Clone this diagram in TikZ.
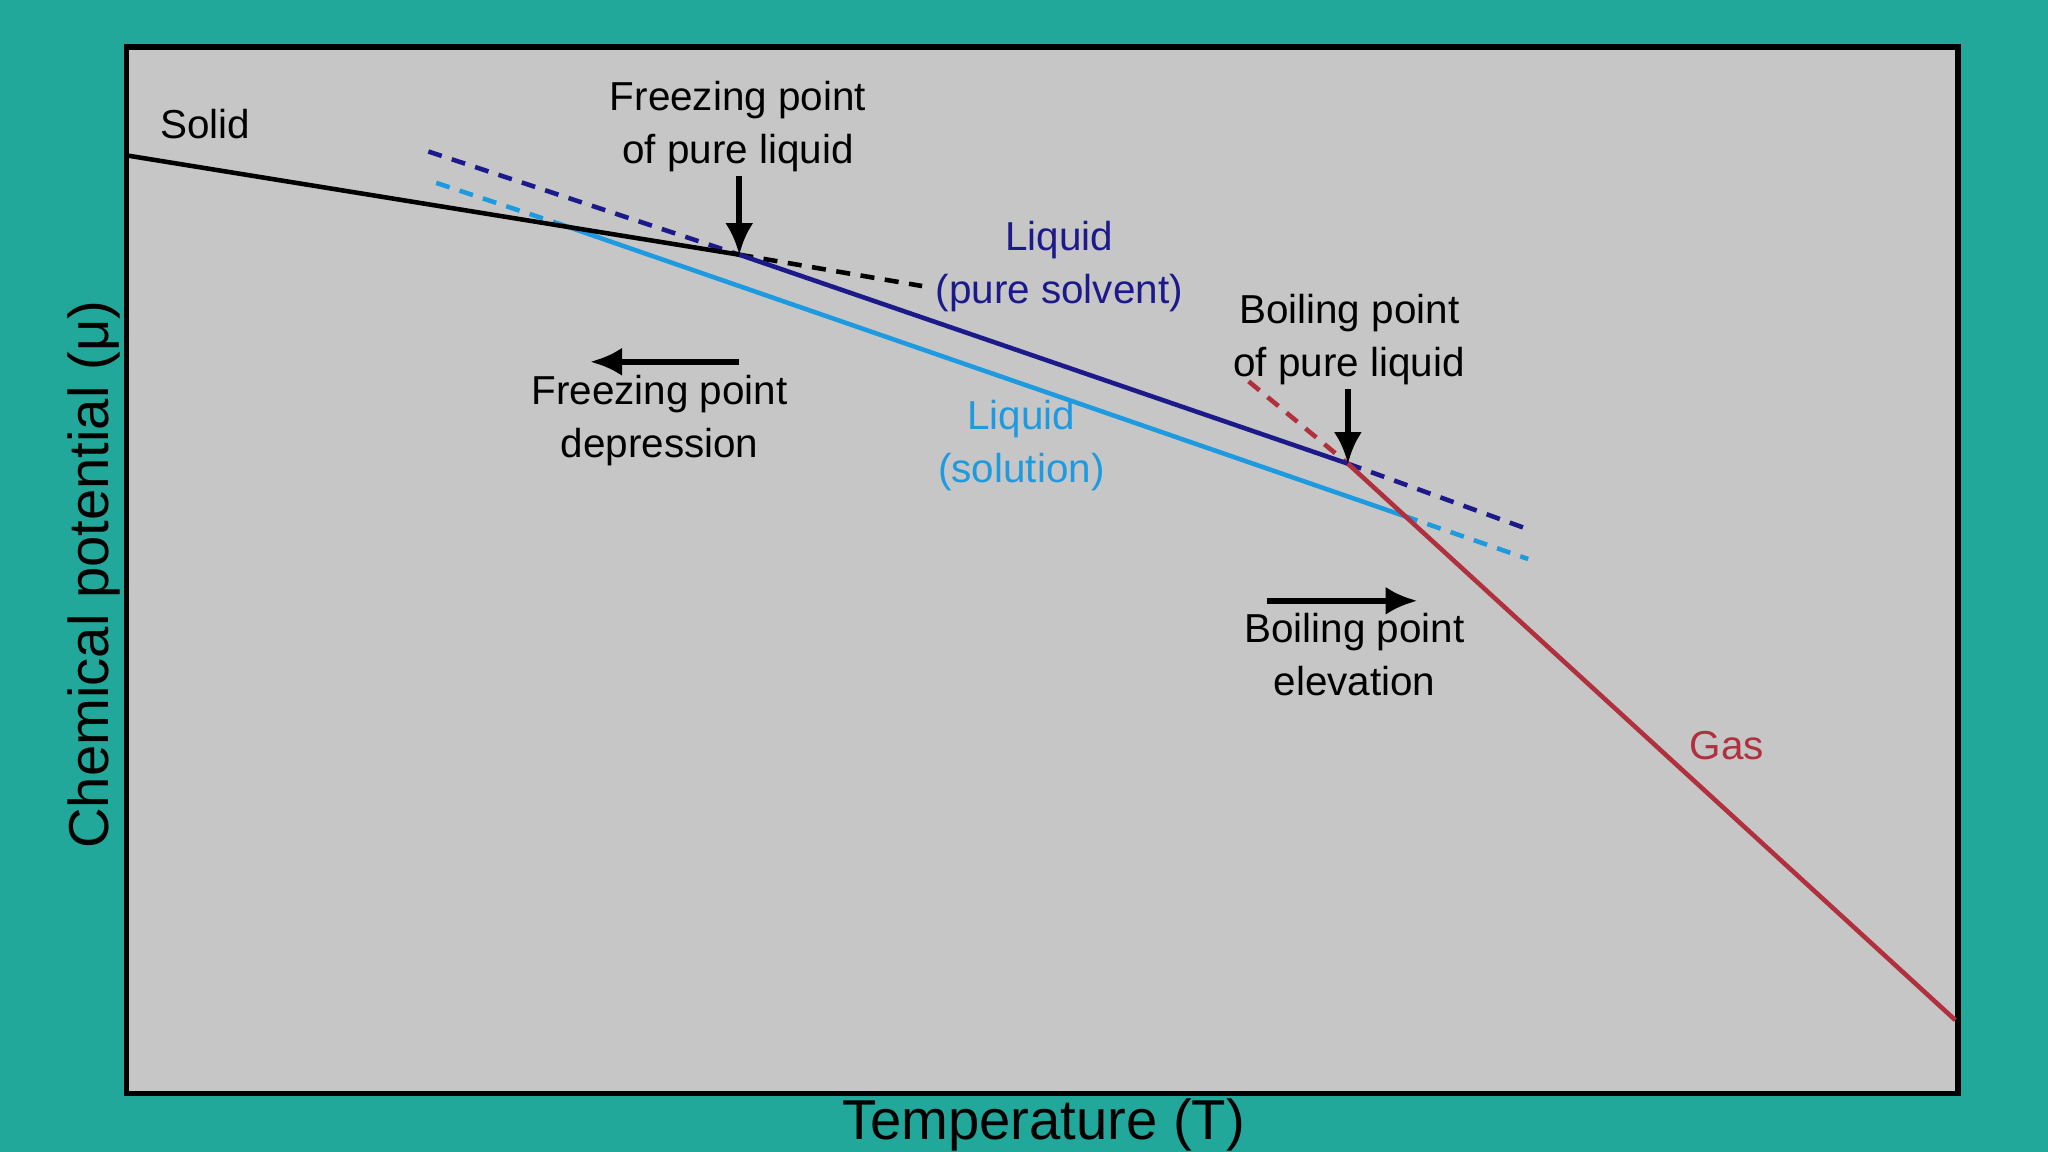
\documentclass[tikz,border=0pt]{standalone}
\usepackage{fontspec}
\setmainfont{Liberation Sans}
\definecolor{teal}{HTML}{22A89B}
\definecolor{panel}{HTML}{C6C6C6}
\definecolor{navy}{HTML}{1C1A8A}
\definecolor{sky}{HTML}{1E9BE0}
\definecolor{gasred}{HTML}{B0303E}
\begin{document}
\begin{tikzpicture}[x=0.01306cm,y=-0.01306cm,
  lab/.style={font=\fontsize{11.5}{15}\selectfont,align=center,inner sep=0},
  ln/.style={line width=1.3pt},
  dl/.style={line width=1.3pt,dash pattern=on 4pt off 3pt},
  arr/.style={line width=1.6pt,-{Latex[length=9pt,width=8pt]}}]
\usetikzlibrary{arrows.meta}
\fill[teal] (0,0) rectangle (1568,882);
\useasboundingbox (0,0) rectangle (1568,882);
\draw[fill=panel,line width=1.5pt] (97,36) rectangle (1499,837);
\coordinate (s0) at (97,119);
\coordinate (fp) at (566,195);
\coordinate (fd) at (706,219);
\coordinate (bp) at (1032,355);
\coordinate (pd0) at (328,116);
\coordinate (pd1) at (1172,406);
\coordinate (sf) at (430,172);
\coordinate (sb) at (1075,395);
\coordinate (sd0) at (334,140);
\coordinate (sd1) at (1170,428);
\coordinate (gd) at (956,292);
\coordinate (ge) at (1497,781);
\draw[dl,navy] (pd0) -- (fp);
\draw[dl,sky] (sd0) -- (sf);
\draw[dl,black] (fp) -- (fd);
\draw[dl,navy] (bp) -- (pd1);
\draw[dl,sky] (sb) -- (sd1);
\draw[dl,gasred] (gd) -- (bp);
\draw[ln,sky] (sf) -- (sb);
\draw[ln,navy] (fp) -- (bp);
\draw[ln,gasred] (bp) -- (ge);
\draw[ln,black] (s0) -- (fp);
\coordinate (a1) at (566,135);
\coordinate (a2) at (1032,298);
\coordinate (h1) at (566,277);
\coordinate (h2) at (452,277);
\coordinate (h3) at (970,460);
\coordinate (h4) at (1085,460);
\draw[arr] (a1) -- (fp);
\draw[arr] (a2) -- (bp);
\draw[arr] (h1) -- (h2);
\draw[arr] (h3) -- (h4);
\node[lab] (solid) at (157,95) {Solid};
\node[lab] (fpl) at (565,97) {Freezing point\\of pure liquid};
\node[lab,text=navy] (lps) at (811,204) {Liquid\\(pure solvent)};
\node[lab] (bpl) at (1033,260) {Boiling point\\of pure liquid};
\node[lab] (fpd) at (505,322) {Freezing point\\depression};
\node[lab,text=sky] (ls) at (782,341) {Liquid\\(solution)};
\node[lab] (bpe) at (1037,501) {Boiling point\\elevation};
\node[lab,text=gasred] (gas) at (1322,571) {Gas};
\node[font=\fontsize{16}{18}\selectfont,rotate=90,inner sep=0] (yl) at (72,440) {Chemical potential (μ)};
\node[font=\fontsize{16}{18}\selectfont,inner sep=0] (xl) at (799,861) {Temperature (T)};
\end{tikzpicture}
\end{document}
